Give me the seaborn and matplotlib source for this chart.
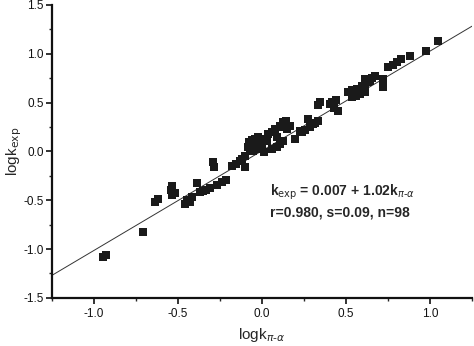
import numpy as np
import pandas as pd
import matplotlib
matplotlib.use("Agg")
import matplotlib.pyplot as plt
from matplotlib.ticker import MultipleLocator
import seaborn as sns

# data values
log_k_calc = [-0.946, -0.929, -0.708, -0.637, -0.619, -0.536, -0.542, -0.536, -0.518, -0.458,
              -0.446, -0.417, -0.387, -0.369, -0.351, -0.333, -0.310, -0.268, -0.238, -0.292,
              -0.286, -0.179, -0.155, -0.131, -0.101, -0.101, -0.083, -0.077, -0.060, -0.042,
              -0.024, -0.054, -0.012, 0.012, 0.036, 0.030, 0.060, 0.077, 0.107, 0.125,
              0.143, 0.060, 0.089, 0.107, 0.125, 0.149, 0.196, 0.238, 0.256, 0.286,
              0.304, 0.333, 0.274, 0.333, 0.345, 0.417, 0.429, 0.452, 0.440, 0.512,
              0.536, 0.536, 0.560, 0.583, 0.601, 0.613, 0.613, 0.631, 0.655, 0.673,
              0.565, 0.595, 0.720, 0.720, 0.750, 0.780, 0.804, 0.827, 0.881, 0.976,
              1.048, -0.071, 0.000, -0.030, 0.018, 0.167, -0.119, 0.125, 0.226, 0.405,
              0.613, 0.643, -0.429, -0.214, -0.071, 0.089, 0.315, 0.550]
log_k_exp = [-1.085, -1.064, -0.829, -0.522, -0.491, -0.358, -0.399, -0.450, -0.430, -0.542,
             -0.502, -0.471, -0.328, -0.420, -0.409, -0.399, -0.379, -0.348, -0.317, -0.113,
             -0.164, -0.154, -0.133, -0.102, -0.164, -0.051, 0.041, 0.092, 0.113, 0.123,
             0.143, 0.000, 0.020, -0.010, 0.174, 0.102, 0.194, 0.225, 0.256, 0.297,
             0.307, 0.020, 0.041, 0.072, 0.102, 0.225, 0.123, 0.194, 0.215, 0.246,
             0.276, 0.307, 0.328, 0.471, 0.502, 0.502, 0.440, 0.409, 0.522, 0.604,
             0.624, 0.553, 0.563, 0.583, 0.635, 0.604, 0.665, 0.706, 0.747, 0.768,
             0.635, 0.665, 0.737, 0.655, 0.860, 0.880, 0.911, 0.942, 0.972, 1.024,
             1.126, 0.061, 0.072, 0.051, 0.123, 0.256, -0.082, 0.246, 0.205, 0.481,
             0.737, 0.716, -0.522, -0.297, 0.020, 0.143, 0.287, 0.600]
fit_intercept = 0.007
fit_slope = 1.02
x_ticks = [-1.0, -0.5, 0.0, 0.5, 1.0]
y_ticks = [-1.5, -1.0, -0.5, 0.0, 0.5, 1.0, 1.5]

df = pd.DataFrame({"x": log_k_calc, "y": log_k_exp})

sns.set_style("ticks")
plt.rcParams["font.family"] = ["Liberation Sans", "DejaVu Sans"]

fig = plt.figure(figsize=(4.74, 3.46), dpi=100)
ax = fig.add_axes([0.110, 0.139, 0.886, 0.847])

xlim = (-1.25, 1.25)
line_x = np.array(xlim)
line_df = pd.DataFrame({"x": line_x, "y": fit_intercept + fit_slope * line_x})
sns.lineplot(data=line_df, x="x", y="y", ax=ax, color="#333333", linewidth=0.7, zorder=1)
sns.scatterplot(data=df, x="x", y="y", ax=ax, marker="s", s=30, color="#1a1a1a",
                linewidth=0, zorder=2)

ax.set_xlim(*xlim)
ax.set_ylim(-1.5, 1.5)
ax.set_xticks(x_ticks)
ax.set_yticks(y_ticks)
ax.set_xticklabels([f"{v:.1f}" for v in x_ticks])
ax.set_yticklabels([f"{v:.1f}" for v in y_ticks])
ax.xaxis.set_minor_locator(MultipleLocator(0.25))
ax.yaxis.set_minor_locator(MultipleLocator(0.25))
ax.tick_params(which="major", direction="out", length=4, width=1.2, labelsize=8.5, colors="#111111")
ax.tick_params(axis="y", which="major", pad=2)
ax.tick_params(which="minor", direction="out", length=2.5, width=1.0)

sns.despine(ax=ax)
for s in ["left", "bottom"]:
    ax.spines[s].set_linewidth(1.6)
    ax.spines[s].set_color("#111111")

ax.set_xlabel(r"logk$_{\pi\text{-}\alpha}$", fontsize=11, labelpad=4)
ax.set_ylabel(r"logk$_{\rm exp}$", fontsize=11)
ax.yaxis.set_label_coords(-0.066, 0.5)

ax.text(0.048, -0.42, r"k$_{\rm exp}$ = 0.007 + 1.02k$_{\pi\text{-}\alpha}$", fontsize=10,
        fontweight="bold", ha="left", va="center")
ax.text(0.048, -0.63, "r=0.980, s=0.09, n=98", fontsize=10, fontweight="bold",
        ha="left", va="center")

fig.savefig("out.png", dpi=100)
